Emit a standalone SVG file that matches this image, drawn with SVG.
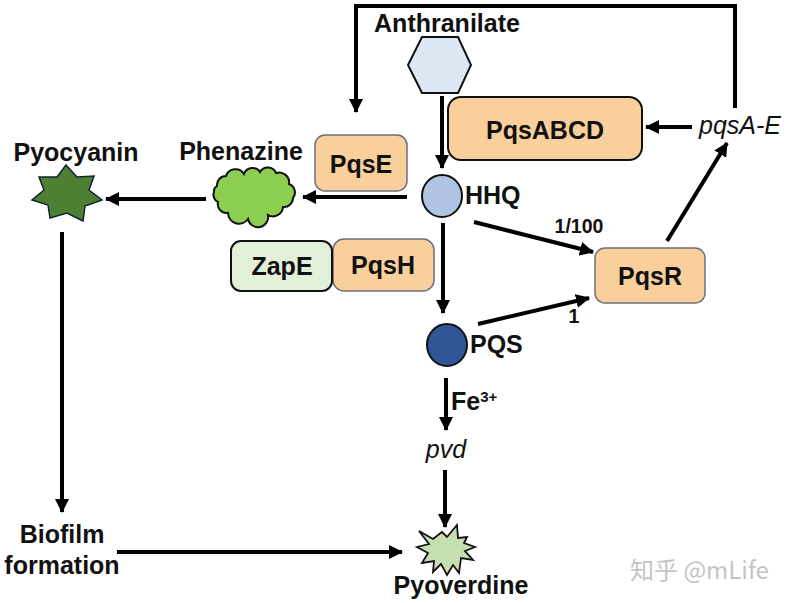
<svg xmlns="http://www.w3.org/2000/svg" width="787" height="603" viewBox="0 0 787 603">
<style>
text{font-family:"Liberation Sans",Arial,sans-serif;font-weight:bold;fill:#111;font-size:25px}
.c{text-anchor:middle}
.o{fill:#f9cf9c;stroke:#6b6f78;stroke-width:1.5}
.k{stroke:#111;stroke-width:2}
.i{font-weight:normal;font-style:italic}
.s{font-size:19.5px}
.l{fill:none;stroke:#000;stroke-width:4}
</style>
<defs><marker id="a" markerUnits="userSpaceOnUse" markerWidth="16" markerHeight="14" refX="13" refY="7" orient="auto"><path d="M0 0L14 7L0 14Z" fill="#000"/></marker></defs>
<rect width="787" height="603" fill="#fff"/>
<g id="connectors">
<path class="l" d="M735 108V6H356V112" marker-end="url(#a)"/>
<path class="l" d="M442 96V168" marker-end="url(#a)"/>
<path class="l" d="M692 127H646" marker-end="url(#a)"/>
<path class="l" d="M667 241L727 143" marker-end="url(#a)"/>
<path class="l" d="M407 197H303" marker-end="url(#a)"/>
<path class="l" d="M206 199H106" marker-end="url(#a)"/>
<path class="l" d="M474 222L593 252" marker-end="url(#a)"/>
<path class="l" d="M478 324L589 298" marker-end="url(#a)"/>
<path class="l" d="M443 223V313" marker-end="url(#a)"/>
<path class="l" d="M446 378V430" marker-end="url(#a)"/>
<path class="l" d="M445 470V527" marker-end="url(#a)"/>
<path class="l" d="M62 232V512" marker-end="url(#a)"/>
<path class="l" d="M117 552H402" marker-end="url(#a)"/>
</g>
<g id="anthranilate"><polygon points="408,65 422,37 458,37 471,65 458,93 422,93" fill="#dce9f5" stroke="#111" stroke-width="2"/><text x="447" y="32" class="c">Anthranilate</text></g>
<g id="pqsabcd"><rect class="o k" x="448" y="97" width="194" height="63" rx="13"/><text x="545" y="139" class="c">PqsABCD</text></g>
<g id="pqse"><rect class="o" x="315" y="135" width="92" height="56" rx="10"/><text x="361" y="173" class="c">PqsE</text></g>
<g id="hhq"><ellipse cx="442" cy="196" rx="20" ry="21" fill="#b0c4e4" stroke="#111" stroke-width="2"/><text x="465" y="204">HHQ</text></g>
<g id="pqsh"><rect class="o" x="333" y="239" width="101" height="52" rx="11"/><text x="383" y="274" class="c">PqsH</text></g>
<g id="zape"><rect x="231" y="241" width="101" height="50" rx="10" fill="#e3f0d9" stroke="#111" stroke-width="2"/><text x="282" y="275" class="c">ZapE</text></g>
<g id="pqsr"><rect class="o" x="595" y="248" width="110" height="55" rx="10"/><text x="650" y="285" class="c">PqsR</text></g>
<g id="pqs"><ellipse cx="447" cy="345" rx="20" ry="21" fill="#2f5597" stroke="#111" stroke-width="2"/><text x="470" y="353">PQS</text></g>
<g id="pqsa-e"><text x="699" y="134" class="i">pqsA-E</text></g>
<g id="pvd"><text x="446" y="458" class="c i">pvd</text></g>
<g id="fe"><text x="451" y="410">Fe<tspan font-size="15" dy="-8">3+</tspan></text></g>
<text x="579" y="233" class="c s">1/100</text>
<text x="574" y="323" class="c s">1</text>
<g id="pyocyanin"><polygon points="66,165 77,177 94,176 89,190 102,200 85,206 83,221 67,213 50,218 48,205 32,200 44,190 39,177 57,177" fill="#4f7f33" stroke="#123" stroke-width="1.5"/><text x="76" y="161" class="c">Pyocyanin</text></g>
<g id="phenazine"><path d="M217 186A9 9 0 0 1 226 176A10 10 0 0 1 244 174A9 9 0 0 1 260 172A9 9 0 0 1 276 173A10 10 0 0 1 289 184A9 9 0 0 1 293 198A9 9 0 0 1 283 207A10 10 0 0 1 268 215A10 10 0 0 1 248 219A11 11 0 0 1 228 213A9 9 0 0 1 218 202A8 8 0 0 1 214 192A6 6 0 0 1 217 186Z" fill="#8cce50" stroke="#111" stroke-width="2"/><text x="241" y="160" class="c">Phenazine</text></g>
<g id="biofilm"><text x="62" y="543" class="c">Biofilm</text><text x="62" y="574" class="c">formation</text></g>
<g id="pyoverdine"><polygon points="419,531 433,539 442,532 447,537 457,525 458,538 467,537 464,543 475,547 465,551 473,560 461,558 459,573 453,565 447,575 441,564 433,572 434,561 422,563 428,553 417,547 429,544" fill="#c6dfb0" stroke="#111" stroke-width="1.8"/><text x="461" y="594" class="c">Pyoverdine</text></g>
<text x="630" y="579" style="font-family:'Noto Sans CJK SC','Noto Sans',sans-serif;font-weight:normal;font-size:24px;fill:#c4c4c4">知乎 @mLife</text>
</svg>
